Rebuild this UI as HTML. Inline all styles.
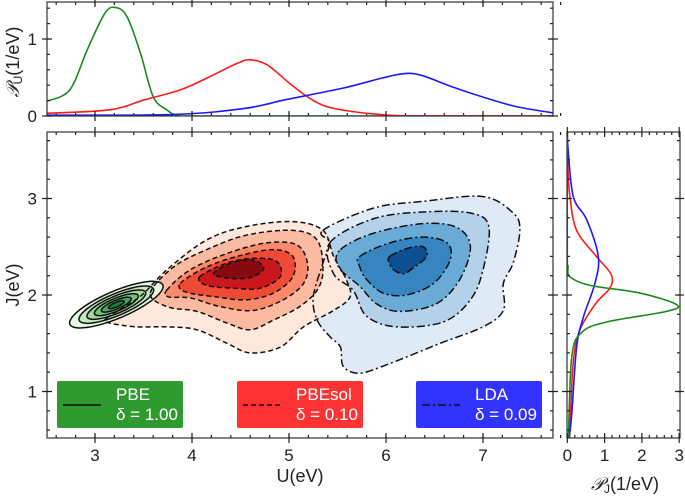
<!DOCTYPE html>
<html><head><meta charset="utf-8">
<style>
html,body{margin:0;padding:0;background:#fff;}
svg{display:block;font-family:"Liberation Sans",sans-serif;}
</style></head>
<body>
<svg id="chart" width="685" height="496" viewBox="0 0 685 496" xmlns="http://www.w3.org/2000/svg">
<defs>
<clipPath id="cm"><rect x="47" y="132" width="506" height="306"/></clipPath>
<clipPath id="ct"><rect x="47" y="2" width="506" height="114"/></clipPath>
<clipPath id="cr"><rect x="567" y="132" width="113" height="306"/></clipPath>
</defs>
<g id="mainPanel"></g>
<g id="topPanel"></g>
<g id="rightPanel"></g>
<g id="legendGroup"></g>
<text x="300" y="482" font-size="18" text-anchor="middle" fill="#222">U(eV)</text>
<text transform="translate(19,285) rotate(-90)" font-size="18" text-anchor="middle" fill="#222">J(eV)</text>
<text transform="translate(19,62) rotate(-90)" font-size="18" text-anchor="middle" fill="#222"><tspan font-style="italic" font-family="Liberation Serif,serif">𝒫</tspan><tspan font-size="12" dy="3">U</tspan><tspan dy="-3">(1/eV)</tspan></text>
<text x="625" y="490" font-size="18" text-anchor="middle" fill="#222"><tspan font-style="italic" font-family="Liberation Serif,serif">𝒫</tspan><tspan font-size="12" dy="3">J</tspan><tspan dy="-3">(1/eV)</tspan></text>
</svg>
<script>
const blueLevels = [
 [[5.35,2.67],[5.87,2.90],[6.38,2.97],[7.00,3.02],[7.31,2.85],[7.38,2.67],[7.31,2.33],[7.21,2.12],[7.21,1.84],[7.00,1.67],[6.56,1.50],[6.04,1.29],[5.73,1.19],[5.56,1.26],[5.53,1.46],[5.42,1.57],[5.29,1.74],[5.25,1.98],[5.35,2.33],[5.42,2.54]],
 [[5.42,2.54],[5.87,2.79],[6.38,2.86],[6.87,2.85],[7.06,2.71],[7.00,2.26],[6.87,1.95],[6.59,1.72],[6.11,1.67],[5.80,1.78],[5.66,2.05],[5.46,2.22]],
 [[5.53,2.47],[5.87,2.64],[6.38,2.74],[6.73,2.70],[6.87,2.50],[6.76,2.16],[6.52,1.91],[6.14,1.83],[5.90,1.91],[5.73,2.09],[5.51,2.29]],
 [[5.73,2.40],[6.04,2.54],[6.38,2.60],[6.63,2.54],[6.66,2.36],[6.49,2.12],[6.21,2.00],[5.97,2.02],[5.80,2.16],[5.73,2.29]],
 [[6.04,2.40],[6.21,2.48],[6.38,2.50],[6.42,2.40],[6.28,2.28],[6.18,2.22],[6.08,2.26],[6.03,2.34]]
];
const redLevels = [
 [[3.12,1.76],[3.46,1.98],[3.74,2.26],[4.15,2.57],[4.56,2.71],[5.04,2.76],[5.35,2.67],[5.46,2.40],[5.59,2.16],[5.63,1.98],[5.46,1.84],[5.15,1.67],[4.91,1.46],[4.60,1.40],[4.36,1.50],[4.05,1.64],[3.74,1.67],[3.43,1.67],[3.15,1.71]],
 [[3.57,2.02],[3.81,2.29],[4.15,2.47],[4.56,2.62],[5.04,2.67],[5.29,2.57],[5.35,2.26],[5.29,2.05],[5.11,1.88],[4.84,1.74],[4.60,1.64],[4.36,1.71],[4.05,1.83],[3.74,1.88]],
 [[3.74,2.05],[3.98,2.26],[4.36,2.43],[4.77,2.54],[5.08,2.52],[5.19,2.33],[5.15,2.12],[4.94,1.95],[4.63,1.84],[4.29,1.88],[3.98,1.97],[3.76,1.98]],
 [[3.88,2.12],[4.15,2.29],[4.50,2.41],[4.84,2.47],[5.04,2.40],[5.04,2.19],[4.84,2.02],[4.56,1.95],[4.25,1.98],[3.94,2.03]],
 [[4.08,2.19],[4.36,2.33],[4.63,2.38],[4.87,2.35],[4.91,2.19],[4.70,2.07],[4.43,2.07],[4.15,2.10]],
 [[4.22,2.22],[4.43,2.34],[4.63,2.36],[4.74,2.28],[4.63,2.19],[4.43,2.17]]
];
const greenCenter = [3.22, 1.90];
const greenScales = [1, 0.8, 0.63, 0.47, 0.32, 0.17];
const greenAxes = [0.52, 0.14];
const greenAngleDeg = 23;

const topUGreen = [[2.5,0.19],[2.74,0.34],[2.92,0.86],[3.10,1.33],[3.21,1.41],[3.33,1.29],[3.47,0.81],[3.60,0.25],[3.74,0.08],[3.85,0.01],[4.1,0],[7.8,0]];
const topURed = [[2.5,0.035],[3.15,0.08],[3.51,0.21],[3.88,0.34],[4.15,0.49],[4.46,0.68],[4.60,0.73],[4.78,0.66],[5.01,0.42],[5.19,0.25],[5.37,0.13],[5.64,0.06],[6.0,0.013],[6.4,0.002],[7.8,0]];
const topUBlue = [[2.5,0.01],[3.82,0.02],[4.55,0.10],[4.96,0.21],[5.55,0.36],[5.95,0.49],[6.18,0.55],[6.36,0.53],[6.68,0.38],[6.99,0.25],[7.35,0.12],[7.78,0.03]];
const rightJGreen = [[3.69,0],[2.40,0],[2.30,0.02],[2.19,0.07],[2.10,0.61],[2.02,1.95],[1.90,2.93],[1.83,2.66],[1.72,1.05],[1.61,0.38],[1.36,0.12],[0.52,0.03]];
const rightJRed = [[3.69,0],[3.30,0.02],[3.02,0.07],[2.67,0.25],[2.40,0.78],[2.21,1.18],[2.07,1.14],[1.92,0.78],[1.64,0.34],[1.30,0.16],[0.52,0.06]];
const rightJBlue = [[3.69,0],[3.52,0.02],[3.02,0.16],[2.78,0.52],[2.40,0.83],[2.12,0.74],[1.77,0.43],[1.46,0.25],[0.77,0.12],[0.52,0.05]];
const uTicks = [3,4,5,6,7];
const jTicks = [1,2,3];
const pTopTicks = [0,1];
const pRightTicks = [0,1,2,3];

const blueFills = ['#deebf7','#b4d1ea','#6aaad6','#3685c1','#0c4f93'];
const redFills = ['#fee8dc','#fcbba1','#fb8a6a','#ef4a35','#c9171c','#860a10'];
const greenFills = ['#e8f6e3','#c7e9c0','#a1d99b','#74c476','#41ab5d','#1f7d3c'];

const xU = u => 95 + (u - 3) * 97;
const yJ = j => 295 - (j - 2) * 96.5;
const yP = p => 116 - p * 77;
const xP = p => 567.3 + p * 37.3;
const NS = 'http://www.w3.org/2000/svg';
function mk(tag, attrs, parent){ const e=document.createElementNS(NS,tag); for(const k in attrs) e.setAttribute(k,attrs[k]); parent.appendChild(e); return e; }

function crPath(pts, closed){
  const n = pts.length; let d = 'M'+pts[0][0].toFixed(2)+','+pts[0][1].toFixed(2);
  const get = i => closed ? pts[(i+n)%n] : pts[Math.max(0,Math.min(n-1,i))];
  const last = closed ? n : n-1;
  for(let i=0;i<last;i++){
    const p0=get(i-1),p1=get(i),p2=get(i+1),p3=get(i+2);
    const c1=[p1[0]+(p2[0]-p0[0])/6,p1[1]+(p2[1]-p0[1])/6];
    const c2=[p2[0]-(p3[0]-p1[0])/6,p2[1]-(p3[1]-p1[1])/6];
    d+='C'+c1[0].toFixed(2)+','+c1[1].toFixed(2)+' '+c2[0].toFixed(2)+','+c2[1].toFixed(2)+' '+p2[0].toFixed(2)+','+p2[1].toFixed(2);
  }
  return d+(closed?'Z':'');
}

const mainPanel = document.getElementById('mainPanel');
const topPanel = document.getElementById('topPanel');
const rightPanel = document.getElementById('rightPanel');
const legendGroup = document.getElementById('legendGroup');
const mg = mk('g',{'clip-path':'url(#cm)'},mainPanel);

function drawSet(levels, fills, dash, name){
  const fg = mk('g',{},mg);
  levels.forEach((lv,i)=>{
    const p = mk('path',{d:crPath(lv.map(q=>[xU(q[0]),yJ(q[1])]),true),fill:fills[i],stroke:'none'},fg);
    
    
  });
  return ()=>{
    levels.forEach((lv,i)=>{
      const p = mk('path',{d:crPath(lv.map(q=>[xU(q[0]),yJ(q[1])]),true),fill:'none',stroke:'#111','stroke-width':1.5,'stroke-dasharray':dash},mg);
      
      
    });
  };
}
const greenLevels = greenScales.map(s=>{
  const pts=[]; const a=-greenAngleDeg*Math.PI/180;
  for(let k=0;k<24;k++){
    const t=k/24*2*Math.PI;
    const px=greenAxes[0]*s*97*Math.cos(t), py=greenAxes[1]*s*97*Math.sin(t);
    const rx=px*Math.cos(a)-py*Math.sin(a), ry=px*Math.sin(a)+py*Math.cos(a);
    pts.push([greenCenter[0]+rx/97, greenCenter[1]-ry/96.5]);
  }
  return pts;
});
const lb = drawSet(blueLevels, blueFills, '8,3,2,3', 'lda');
const lr = drawSet(redLevels, redFills, '5,3', 'pbesol');
const lg = drawSet(greenLevels, greenFills, 'none', 'pbe');
lb(); lr(); lg();

function frame(g,x,y,w,h,name){
  const r = mk('rect',{x:x,y:y,width:w,height:h,fill:'none',stroke:'#333','stroke-width':1.2},g);
  
  
}
function tick(g,x1,y1,x2,y2){ mk('line',{x1:x1,y1:y1,x2:x2,y2:y2,stroke:'#222','stroke-width':1.2},g); }
function label(g,x,y,t,anchor,name){
  const e=mk('text',{x:x,y:y,'font-size':17,'text-anchor':anchor,fill:'#222'},g); e.textContent=t;
  
  
}
frame(mainPanel,47,132,506,306,'main-plot-frame');
for(let u=2.6;u<7.81;u+=0.2){ const x=xU(u); tick(mainPanel,x,438,x,435); tick(mainPanel,x,132,x,135); tick(topPanel,x,116,x,113); tick(topPanel,x,2,x,5); }
uTicks.forEach(u=>{ const x=xU(u); tick(mainPanel,x,433,x,443); tick(mainPanel,x,127,x,137); label(mainPanel,x,461,String(u),'middle','x-tick-label-'+u); });
for(let j=0.6;j<3.69;j+=0.2){ const y=yJ(j); tick(mainPanel,47,y,50,y); tick(mainPanel,553,y,550,y); }
jTicks.forEach(j=>{ const y=yJ(j); tick(mainPanel,42,y,52,y); tick(mainPanel,548,y,558,y); label(mainPanel,37,y+6,String(j),'end','y-tick-label-'+j); });

const tg = mk('g',{'clip-path':'url(#ct)'},topPanel);
[[topUGreen,'green','#1a8a1a'],[topURed,'red','#ff1a1a'],[topUBlue,'blue','#1a1aff']].forEach(([arr,k,c])=>{
  const p = mk('path',{d:crPath(arr.map(q=>[xU(q[0]),yP(q[1])]),false),fill:'none',stroke:c,'stroke-width':1.6},tg);
  
  
});
frame(topPanel,47,2,506,114,'top-plot-frame');
uTicks.forEach(u=>{ const x=xU(u); tick(topPanel,x,111,x,121); tick(topPanel,x,0,x,7); });
for(let p=0.2;p<1.5;p+=0.2){ const y=yP(p); tick(topPanel,47,y,50,y); tick(topPanel,553,y,550,y); }
pTopTicks.forEach(p=>{ const y=yP(p); tick(topPanel,42,y,52,y); tick(topPanel,548,y,558,y); label(topPanel,37,y+6,String(p),'end','top-y-tick-label-'+p); });

const rg = mk('g',{'clip-path':'url(#cr)'},rightPanel);
[[rightJRed,'red','#ff1a1a'],[rightJBlue,'blue','#1a1aff'],[rightJGreen,'green','#1a8a1a']].forEach(([arr,k,c])=>{
  const p = mk('path',{d:crPath(arr.map(q=>[xP(q[1]),yJ(q[0])]),false),fill:'none',stroke:c,'stroke-width':1.6},rg);
  
  
});
frame(rightPanel,567,132,113,306,'right-plot-frame');
for(let j=0.6;j<3.69;j+=0.2){ const y=yJ(j); tick(rightPanel,567,y,570,y); tick(rightPanel,680,y,677,y); }
jTicks.forEach(j=>{ const y=yJ(j); tick(rightPanel,562,y,572,y); tick(rightPanel,675,y,684,y); });
for(let p=0.2;p<3.05;p+=0.2){ const x=xP(p); tick(rightPanel,x,438,x,435); tick(rightPanel,x,132,x,135); }
pRightTicks.forEach(p=>{ const x=xP(p); tick(rightPanel,x,433,x,443); tick(rightPanel,x,127,x,137); label(rightPanel,x,461,String(p),'middle','right-x-tick-label-'+p); });

const legItems = [['PBE','δ = 1.00','#2f9a2f',57,'none','pbe'],['PBEsol','δ = 0.10','#ff3333',237,'5,3','pbesol'],['LDA','δ = 0.09','#3333ff',416,'8,3,2,3','lda']];
legItems.forEach(([n,d,c,x,dash,key])=>{
  const g = mk('g',{},legendGroup);
  
  
  mk('rect',{x:x,y:381,width:126,height:47,rx:2,fill:c},g);
  mk('line',{x1:x+6,y1:405,x2:x+44,y2:405,stroke:'#111','stroke-width':1.5,'stroke-dasharray':dash},g);
  const t1=mk('text',{x:x+59,y:400,'font-size':17,fill:'#fff'},g); t1.textContent=n;
  const t2=mk('text',{x:x+59,y:420,'font-size':17,fill:'#fff'},g); t2.textContent=d;
});
</script>
</body></html>
